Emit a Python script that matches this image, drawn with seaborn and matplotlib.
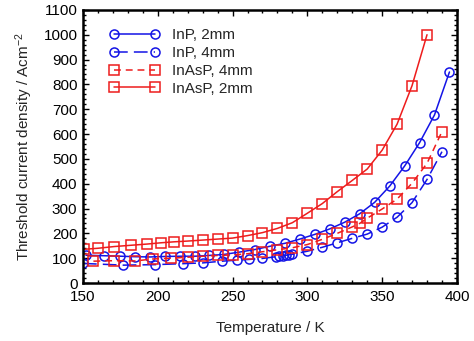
import matplotlib
matplotlib.use("Agg")
import matplotlib.pyplot as plt
import seaborn as sns
from matplotlib.ticker import MultipleLocator

# Threshold current density vs temperature for InP and InAsP lasers
inp_2mm_T = [152, 164, 175, 185, 195, 205, 215, 225, 234, 244, 254, 265, 275,
             285, 295, 305, 315, 325, 335, 345, 355, 365, 375, 385, 395]
inp_2mm_J = [112, 110, 108, 106, 105, 107, 108, 108, 111, 115, 124, 135, 148,
             160, 177, 196, 218, 245, 279, 325, 390, 471, 565, 677, 850]

inp_4mm_T = [150, 177, 198, 217, 230, 243, 253, 261, 270, 279, 281, 284, 286,
             288, 290, 300, 310, 320, 330, 340, 350, 360, 370, 380, 390]
inp_4mm_J = [79, 72, 74, 78, 81, 88, 92, 95, 99, 106, 108, 110, 112,
             114, 116, 128, 144, 162, 180, 197, 225, 265, 324, 417, 529]

inasp_4mm_T = [157, 171, 185, 197, 209, 220, 230, 240, 250, 260, 270, 280,
               290, 300, 310, 320, 330, 335, 340, 350, 360, 370, 380, 390]
inasp_4mm_J = [88, 90, 89, 97, 100, 104, 108, 111, 113, 118, 126, 134,
               142, 155, 176, 200, 226, 240, 261, 298, 338, 402, 482, 610]

inasp_2mm_T = [151, 160, 171, 182, 193, 202, 211, 220, 230, 240, 250, 260,
               270, 280, 290, 300, 310, 320, 330, 340, 350, 360, 370, 380]
inasp_2mm_J = [136, 140, 147, 152, 157, 162, 166, 169, 173, 177, 181, 191,
               203, 220, 243, 281, 320, 368, 413, 459, 535, 640, 795, 1000]

sns.set_style("ticks")
plt.rcParams["font.family"] = ["Liberation Sans", "DejaVu Sans"]
plt.rcParams["mathtext.default"] = "regular"

fig = plt.figure(figsize=(4.74, 3.41), dpi=100)
ax = fig.add_axes([0.175, 0.170, 0.789, 0.801])

blue = "#1414e6"
red = "#ee1c1c"
lw = 1.1
common = dict(ax=ax, sort=False, linewidth=lw, markersize=6.5,
              markerfacecolor="none", markeredgewidth=1.1)

sns.lineplot(x=inp_2mm_T, y=inp_2mm_J, color=blue, marker="o",
             markeredgecolor=blue, label="InP, 2mm", **common)
sns.lineplot(x=inp_4mm_T, y=inp_4mm_J, color=blue, marker="o",
             markeredgecolor=blue, dashes=(9, 4), label="InP, 4mm",
             **common)
sns.lineplot(x=inasp_4mm_T, y=inasp_4mm_J, color=red, marker="s",
             markeredgecolor=red, dashes=(4.5, 3.2), label="InAsP, 4mm",
             **common)
sns.lineplot(x=inasp_2mm_T, y=inasp_2mm_J, color=red, marker="s",
             markeredgecolor=red, label="InAsP, 2mm", **common)

ax.set_xlim(150, 400)
ax.set_ylim(0, 1100)
ax.xaxis.set_major_locator(MultipleLocator(50))
ax.xaxis.set_minor_locator(MultipleLocator(10))
ax.yaxis.set_major_locator(MultipleLocator(100))
ax.yaxis.set_minor_locator(MultipleLocator(20))
ax.tick_params(which="both", direction="in", top=True, right=True,
               labelsize=11, colors="black", width=1.0)
ax.tick_params(which="major", length=4, pad=4)
ax.tick_params(axis="x", which="major", pad=5)
ax.tick_params(which="minor", length=2)
for s in ax.spines.values():
    s.set_linewidth(1.8)
    s.set_color("black")

ax.set_xlabel("Temperature / K", fontsize=11, labelpad=12)
ax.set_ylabel("Threshold current density / Acm$^{-2}$", fontsize=11,
              labelpad=6)

ax.legend(loc="upper left", bbox_to_anchor=(0.055, 0.955), frameon=False,
          numpoints=2, handlelength=3.3, handletextpad=0.8,
          labelspacing=0.25, fontsize=11, borderaxespad=0)

fig.savefig("out.png", dpi=100)
